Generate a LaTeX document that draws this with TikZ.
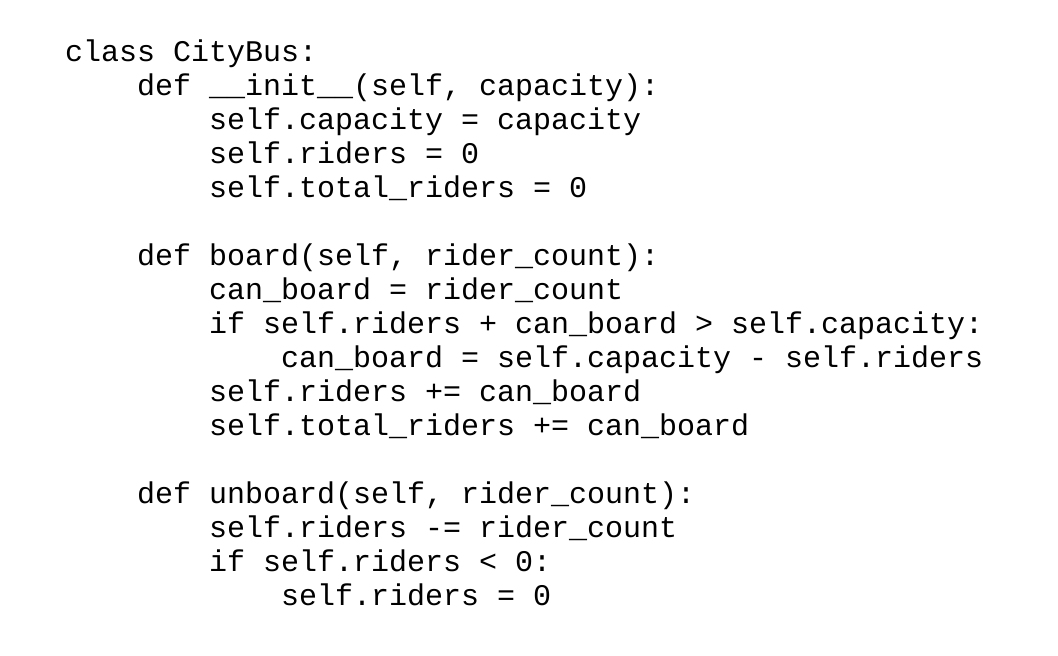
\documentclass[tikz,border=0pt]{standalone}
\usepackage{fontspec}
\setmonofont{Liberation Mono}
\begin{document}
\begin{tikzpicture}[x=1pt,y=1pt,code/.style={anchor=base west,inner sep=0pt,font=\ttfamily\fontsize{30}{34}\selectfont}]
\useasboundingbox (0,0) rectangle (1058,656);
\def\L#1#2#3{\node[code] (l#1) at (65+18*#2,656-62-34*#1) {#3};}
\L{0}{0}{class CityBus:}
\L{1}{4}{def \_\_init\_\_(self, capacity):}
\L{2}{8}{self.capacity = capacity}
\L{3}{8}{self.riders = 0}
\L{4}{8}{self.total\_riders = 0}
\L{6}{4}{def board(self, rider\_count):}
\L{7}{8}{can\_board = rider\_count}
\L{8}{8}{if self.riders + can\_board > self.capacity:}
\L{9}{12}{can\_board = self.capacity - self.riders}
\L{10}{8}{self.riders += can\_board}
\L{11}{8}{self.total\_riders += can\_board}
\L{13}{4}{def unboard(self, rider\_count):}
\L{14}{8}{self.riders -= rider\_count}
\L{15}{8}{if self.riders < 0:}
\L{16}{12}{self.riders = 0}
\end{tikzpicture}
\end{document}
